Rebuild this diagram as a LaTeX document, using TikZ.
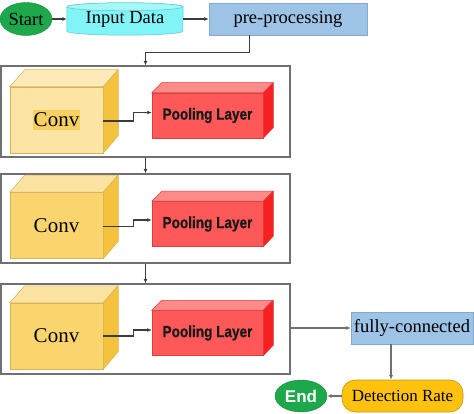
\documentclass[tikz,border=0pt]{standalone}
\usepackage{fontspec}
\setmainfont{Liberation Serif}
\newfontfamily\arialf{Liberation Sans}
\newfontfamily\arialheavy{Liberation Sans}[BoldFeatures={FakeBold=0.8}]
\usetikzlibrary{arrows.meta,calc,backgrounds,shapes.geometric}
\definecolor{grn}{HTML}{1EA84C}
\definecolor{cyanf}{HTML}{80F4F6}
\definecolor{cyand}{HTML}{58C8D0}
\definecolor{bluef}{HTML}{9DC3E6}
\definecolor{blued}{HTML}{86A8CC}
\definecolor{panelgray}{HTML}{707070}
\definecolor{arrgray}{HTML}{3C3C3C}
\definecolor{convfrontA}{HTML}{FCE4A4}
\definecolor{convfrontB}{HTML}{FAD46C}
\definecolor{convhl}{HTML}{F8D062}
\definecolor{convtopA}{HTML}{FDEAB8}
\definecolor{convtopB}{HTML}{FCE3A2}
\definecolor{convside}{HTML}{F4C23C}
\definecolor{convedge}{HTML}{D8B458}
\definecolor{poolfront}{HTML}{FF5858}
\definecolor{pooltop}{HTML}{FF8A8A}
\definecolor{poolside}{HTML}{F82020}
\definecolor{pooledge}{HTML}{D84040}
\definecolor{detf}{HTML}{FFC20E}
\definecolor{detd}{HTML}{C89A10}
\newcommand{\cubeconv}[5]{%
  \node[convface, fill=#3] (#1) at #2 {#5};
  \filldraw[convedge, line width=0.5pt, fill=#4] (#1.north west) -- ++(15,-17) -- ++(93,0) -- (#1.north east) -- cycle;
  \filldraw[convedge, line width=0.5pt, fill=convside] (#1.north east) -- ++(15,-17) -- ++(0,66) -- (#1.south east) -- cycle;
}
\newcommand{\cubepool}[2]{%
  \node[poolface] (#1) at #2 {\scalebox{0.97}[1.15]{Pooling Layer}};
  \filldraw[pooledge, line width=0.5pt, fill=pooltop] (#1.north west) -- ++(10,-10) -- ++(111,0) -- (#1.north east) -- cycle;
  \filldraw[pooledge, line width=0.5pt, fill=poolside] (#1.north east) -- ++(10,-10) -- ++(0,45) -- (#1.south east) -- cycle;
}
\begin{document}
\begin{tikzpicture}[x=1pt,y=-1pt,
  serif/.style={font=\fontsize{18.5}{20}\selectfont},
  arr/.style={draw=arrgray, line width=1.2pt, -{Latex[length=4.5pt,width=4pt]}},
  panel/.style={draw=panelgray, line width=1.3pt, fill=white, inner sep=0pt, minimum width=289pt},
  convface/.style={draw=convedge, line width=0.5pt, inner sep=1pt, minimum width=93pt, minimum height=66pt, font=\fontsize{21}{22}\selectfont},
  poolface/.style={draw=pooledge, line width=0.5pt, fill=poolfront, inner sep=0pt, minimum width=111pt, minimum height=45pt, font=\arialheavy\bfseries\fontsize{14}{15}\selectfont, text=black!90},
  bluebox/.style={draw=blued, line width=0.5pt, fill=bluef, inner sep=0pt, minimum height=32pt, serif}
]
\useasboundingbox (0,0) rectangle (474,414);

% top row
\node[ellipse, fill=grn, draw=grn!80!black, line width=0.4pt, minimum width=52pt, minimum height=33pt, inner sep=0pt, serif] (start) at (26,19) {Start};
\node[minimum width=116pt, minimum height=32pt, inner sep=0pt, serif] (input) at (125,19) {Input Data};
\begin{scope}[on background layer]
  \filldraw[draw=cyand, line width=0.5pt, fill=cyanf]
    ($(input.north west)+(0,4)$) -- ($(input.south west)+(0,-4)$)
    arc[start angle=180, end angle=360, x radius=58pt, y radius=4pt]
    -- ($(input.north east)+(0,4)$)
    arc[start angle=0, end angle=180, x radius=58pt, y radius=4pt] -- cycle;
  \draw[draw=cyand, line width=0.5pt, fill=cyanf!70!white] ($(input.north)+(0,4)$) ellipse[x radius=58pt, y radius=4pt];
\end{scope}
\node[bluebox, minimum width=158pt] (pre) at (288,19) {pre-processing};

\draw[arr] (start) -- (input);
\draw[arr] (input) -- (pre);

% panels
\node[panel, minimum height=91pt] (panel1) at (145.5,111.5) {};
\node[panel, minimum height=89pt] (panel2) at (145.5,218.5) {};
\node[panel, minimum height=90pt] (panel3) at (145.5,329) {};

\coordinate (preout) at ($(pre.south west)+(41,0)$);
\draw[arr] (preout) -- ++(0,17) -| (panel1.north);
\draw[arr] (panel1.south) -- (panel2.north);
\draw[arr] (panel2.south) -- (panel3.north);

% cubes
\cubeconv{conv1}{(56.5,120)}{convfrontA}{convtopA}{\colorbox{convhl}{\hspace{-2pt}Conv\hspace{-2pt}}}
\cubeconv{conv2}{(56.5,225.5)}{convfrontB}{convtopB}{Conv}
\cubeconv{conv3}{(56.5,336)}{convfrontB}{convtopB}{Conv}
\cubepool{pool1}{(207.5,115.5)}
\cubepool{pool2}{(207.5,224)}
\cubepool{pool3}{(207.5,333)}

\draw[arr] ($(conv1.east)+(0,1)$) -- ++(30,0) |- ($(pool1.west)+(0,-3)$);
\draw[arr] ($(conv2.east)+(0,1)$) -- ++(30,0) |- ($(pool2.west)+(0,-4)$);
\draw[arr] ($(conv3.east)+(0,0)$) -- ++(30,0) |- ($(pool3.west)+(0,-3)$);

% right bottom
\node[bluebox, minimum width=122pt] (fc) at (412,328) {fully-connected};
\node[draw=detd, line width=0.6pt, fill=detf, rounded corners=13pt, minimum width=121pt, minimum height=32pt, inner sep=0pt, font=\fontsize{17}{18}\selectfont] (det) at (402.5,396) {Detection Rate};
\node[ellipse, fill=grn, draw=grn!80!black, line width=0.4pt, minimum width=52pt, minimum height=32pt, inner sep=0pt, text=white, font=\arialf\bfseries\fontsize{17}{18}\selectfont] (end) at (301,396) {End};

\draw[arr, draw=panelgray] (fc.west -| panel3.east) -- (fc.west);
\coordinate (fcout) at ($(fc.south)+(-21,0)$);
\draw[arr, draw=panelgray] (fcout) -- (fcout |- det.north);
\draw[arr, draw=panelgray] (det) -- (end);
\end{tikzpicture}
\end{document}
